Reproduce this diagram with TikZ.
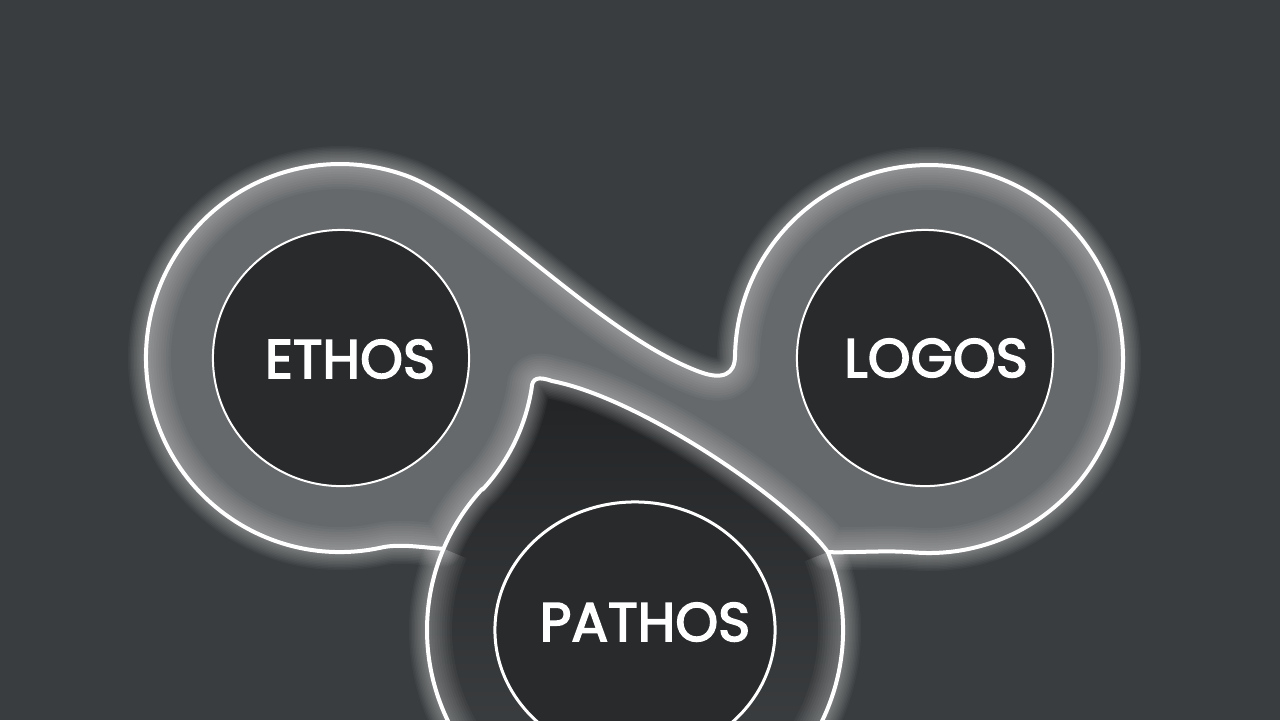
\documentclass[tikz,border=0pt]{standalone}
\usepackage{fontspec}
\usepackage{tikz}
\usetikzlibrary{calc,shapes.geometric,positioning}

\newfontfamily\labelfont{Poppins}[FakeBold=3]
\definecolor{bgcol}{RGB}{58,61,63}
\definecolor{ringcol}{RGB}{102,105,107}
\definecolor{holecol}{RGB}{40,42,44}
\definecolor{sinktop}{RGB}{33,35,37}
\definecolor{sinkbot}{RGB}{68,71,73}

% outline of the two upper rings and the band between them
\newcommand\topblob{($(lc)+(9:194)$) arc[start angle=9,end angle=42.7,radius=194]
  -- ($(bc)+(222.7:208)$) arc[start angle=222.7,end angle=203,radius=208]
  .. controls (425,548) and (400,543) .. ($(lc)+(78:194)$)
  arc[start angle=78,end angle=290,radius=194]
  .. controls (481,203) and (600,335) .. (700,372)
  .. controls (722,380) and (735,375) .. ($(rc)+(181:194)$)
  arc[start angle=181,end angle=455,radius=194]
  .. controls (885,550) and (850,553) .. ($(bc)+(-22:208)$)
  .. controls (790,500) and (640,398) .. (552,381)
  .. controls (538,376) and (532,378) .. cycle}
% visible rim of the lower ring
\newcommand\sinkarc{($(bc)+(-22:208)$) arc[start angle=-22,end angle=203,radius=208]}

\begin{document}
\begin{tikzpicture}[x=0.01cm,y=-0.01cm,
    glow/.style={draw=white,opacity=0.034,line join=round},
    rim/.style={draw=white,line width=0.4mm,line join=round},
    hole/.style={circle,fill=holecol,draw=white,line width=0.2mm,minimum size=2.56cm,inner sep=0},
    lbl/.style={text=white,inner sep=0,font=\labelfont\fontsize{15.5}{18}\selectfont}]
  \useasboundingbox (0,0) rectangle (1280,720);
  \clip (0,0) rectangle (1280,720);
  \fill[bgcol] (0,0) rectangle (1280,720);

  \coordinate (lc) at (340,358);
  \coordinate (rc) at (929,359);
  \coordinate (bc) at (635,630);

  % lower ring
  \foreach \w in {0.6,0.9,...,3.7}
    \draw[glow,line width=\w mm] \sinkarc;
  \fill[top color=sinktop,bottom color=sinkbot]
    ($(bc)+(-30:208)$) arc[start angle=-30,end angle=203,radius=208]
    -- (470,480) -- (530,375) -- (720,400) -- (790,480) -- cycle;
  \begin{scope}
    \clip (bc) circle[radius=208];
    \foreach \w in {1,1.5,...,5.1}
      \draw[glow,line width=\w mm] \sinkarc;
  \end{scope}
  \draw[rim] \sinkarc;

  % upper rings and band
  \foreach \w in {0.6,0.9,...,3.7}
    \draw[glow,line width=\w mm] \topblob;
  \fill[ringcol] \topblob;
  \begin{scope}
    \clip \topblob;
    \foreach \w in {1,1.5,...,5.1}
      \draw[glow,line width=\w mm] \topblob;
  \end{scope}
  \draw[rim] \topblob;

  % inner discs
  \node[hole] (ethos) at (341,358) {};
  \node[hole] (logos) at (925,358) {};
  \node[hole,ellipse,minimum width=2.8cm,minimum height=2.56cm,line width=0.3mm] (pathos) at (635,630) {};

  \node[lbl] (ethostxt) at (350,359) {ETHOS};
  \node[lbl] (logostxt) at (936,358) {LOGOS};
  \node[lbl] (pathostxt) at (645,622) {PATHOS};
\end{tikzpicture}
\end{document}
